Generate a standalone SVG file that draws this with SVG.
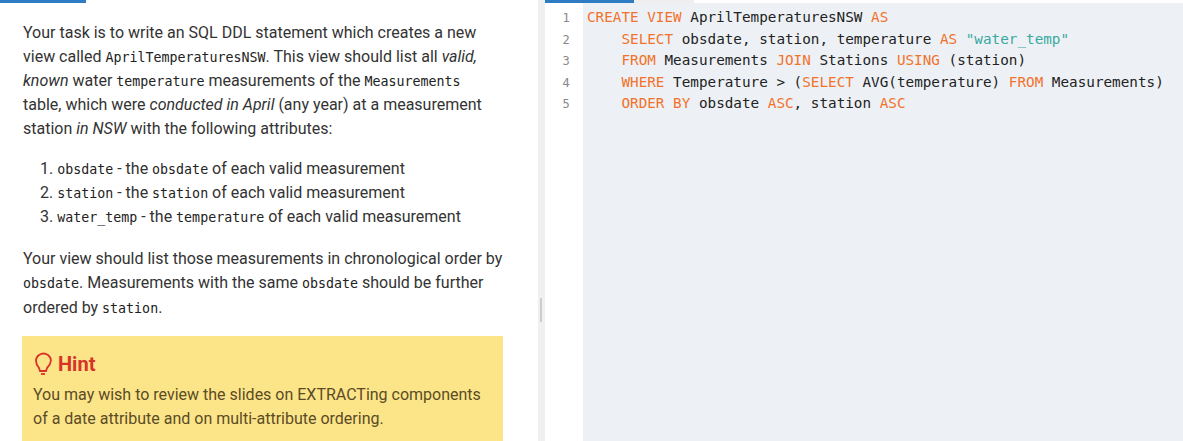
<svg xmlns="http://www.w3.org/2000/svg" width="1183" height="441" viewBox="0 0 1183 441">
<style>
.t{font-family:Roboto,"Liberation Sans",sans-serif;font-size:16px;fill:#333}
.c{font-family:"DejaVu Sans Mono","Liberation Mono",monospace;font-size:13.3px;fill:#222}
.k{fill:#f2712b}
.s{fill:#3aa99f}
.code{font-family:"DejaVu Sans Mono","Liberation Mono",monospace;font-size:14.3px;fill:#222}
.ln{font-family:"DejaVu Sans Mono","Liberation Mono",monospace;font-size:12px;fill:#888;text-anchor:middle}
</style>
<rect width="1183" height="441" fill="#fff"/>
<rect x="0" y="0" width="86" height="3" fill="#2d7cc4"/>
<rect x="538" y="0" width="7" height="441" fill="#f0f0f0"/>
<rect x="540" y="298" width="2" height="24" fill="#ccc"/>
<rect x="545" y="0" width="89" height="3" fill="#2d7cc4"/>
<rect x="634" y="0" width="60" height="3" fill="#eee"/>
<rect x="583" y="3" width="600" height="438" fill="#edf1f5"/>
<g id="task">
<text class="t" x="23" y="38">Your task is to write an SQL DDL statement which creates a new</text>
<text class="t" x="23" y="62">view called <tspan class="c">AprilTemperaturesNSW</tspan>. This view should list all <tspan font-style="italic">valid,</tspan></text>
<text class="t" x="23" y="86"><tspan font-style="italic">known</tspan> water <tspan class="c">temperature</tspan> measurements of the <tspan class="c">Measurements</tspan></text>
<text class="t" x="23" y="110">table, which were <tspan font-style="italic">conducted in April</tspan> (any year) at a measurement</text>
<text class="t" x="23" y="134">station <tspan font-style="italic">in NSW</tspan> with the following attributes:</text>
<text class="t" x="40" y="174">1. <tspan class="c">obsdate</tspan> - the <tspan class="c">obsdate</tspan> of each valid measurement</text>
<text class="t" x="40" y="198">2. <tspan class="c">station</tspan> - the <tspan class="c">station</tspan> of each valid measurement</text>
<text class="t" x="40" y="222">3. <tspan class="c">water_temp</tspan> - the <tspan class="c">temperature</tspan> of each valid measurement</text>
<text class="t" x="23" y="264">Your view should list those measurements in chronological order by</text>
<text class="t" x="23" y="288"><tspan class="c">obsdate</tspan>. Measurements with the same <tspan class="c">obsdate</tspan> should be further</text>
<text class="t" x="23" y="313">ordered by <tspan class="c">station</tspan>.</text>
</g>
<g id="hint">
<rect x="22" y="336" width="481" height="105" fill="#fce588"/>
<g fill="none" stroke="#d8322a" stroke-width="1.8">
<path d="M39 368 C35 363 35 358 39 355 C42 353 45 353 48 355 C52 358 52 363 47 368 L46 371 L40 371 Z"/>
<path d="M41 374 L45 374"/>
</g>
<text x="58" y="371" font-family="Roboto,'Liberation Sans',sans-serif" font-size="20" font-weight="bold" fill="#d8322a">Hint</text>
<text class="t" x="33" y="400" style="fill:#5b4b26">You may wish to review the slides on EXTRACTing components</text>
<text class="t" x="33" y="424" style="fill:#5b4b26">of a date attribute and on multi-attribute ordering.</text>
</g>
<g id="editor">
<text class="ln" x="566" y="22">1</text>
<text class="ln" x="566" y="44">2</text>
<text class="ln" x="566" y="65">3</text>
<text class="ln" x="566" y="87">4</text>
<text class="ln" x="566" y="108">5</text>
<text class="code" x="587" y="22" xml:space="preserve"><tspan class="k">CREATE VIEW</tspan> AprilTemperaturesNSW <tspan class="k">AS</tspan></text>
<text class="code" x="587" y="44" xml:space="preserve">    <tspan class="k">SELECT</tspan> obsdate, station, temperature <tspan class="k">AS</tspan> <tspan class="s">"water_temp"</tspan></text>
<text class="code" x="587" y="65" xml:space="preserve">    <tspan class="k">FROM</tspan> Measurements <tspan class="k">JOIN</tspan> Stations <tspan class="k">USING</tspan> (station)</text>
<text class="code" x="587" y="87" xml:space="preserve">    <tspan class="k">WHERE</tspan> Temperature &gt; (<tspan class="k">SELECT</tspan> AVG(temperature) <tspan class="k">FROM</tspan> Measurements)</text>
<text class="code" x="587" y="108" xml:space="preserve">    <tspan class="k">ORDER BY</tspan> obsdate <tspan class="k">ASC</tspan>, station <tspan class="k">ASC</tspan></text>
</g>
</svg>
